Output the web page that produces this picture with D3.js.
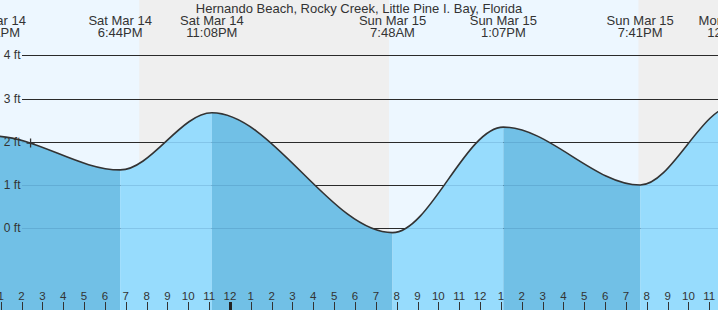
<!DOCTYPE html>
<html>
<head>
<meta charset="utf-8">
<script src="https://cdn.jsdelivr.net/npm/d3@7"></script>
<style>
  html, body { margin: 0; padding: 0; background: #fff; }
  svg { display: block; font-family: "Liberation Sans", Arial, sans-serif; }
</style>
</head>
<body>
<svg id="chart" width="718" height="310"></svg>
<script>
// ---- data ----
const title = "Hernando Beach, Rocky Creek, Little Pine I. Bay, Florida";
const tideTimes = ["2026-03-14T12:41", "2026-03-14T18:44", "2026-03-14T23:08", "2026-03-15T07:48", "2026-03-15T13:07", "2026-03-15T19:41", "2026-03-16T00:09"];
const tideHeights = [2.13, 1.35, 2.67, -0.10, 2.34, 1.00, 2.83];
const tideDateLabels = ["Sat Mar 14", "Sat Mar 14", "Sat Mar 14", "Sun Mar 15", "Sun Mar 15", "Sun Mar 15", "Mon Mar 16"];
const tideTimeLabels = ["12:41PM", "6:44PM", "11:08PM", "7:48AM", "1:07PM", "7:41PM", "12:09AM"];
const nightStarts = ["2026-03-14T19:39", "2026-03-15T19:36"];
const nightEnds = ["2026-03-15T07:38", "2026-03-16T07:38"];
const yTicks = [0, 1, 2, 3, 4];
const yTickLabels = ["0 ft", "1 ft", "2 ft", "3 ft", "4 ft"];
const domainStart = "2026-03-14T12:58";
const domainEnd = "2026-03-15T23:25";
const nowTime = "2026-03-14T14:26";
const nowHeight = 1.97;

// ---- curve: cubic Hermite with flat tangents at every high / low ----
function TideCurve(context) { this._context = context; }
TideCurve.prototype = {
  areaStart() { this._line = 0; },
  areaEnd() { this._line = NaN; },
  lineStart() { this._point = 0; },
  lineEnd() {
    if (this._line || (this._line !== 0 && this._point === 1)) this._context.closePath();
    this._line = 1 - this._line;
  },
  point(px, py) {
    px = +px; py = +py;
    if (this._point === 0) {
      this._point = 1;
      this._line ? this._context.lineTo(px, py) : this._context.moveTo(px, py);
    } else {
      this._point = 2;
      const dx = (px - this._x0) / 3;
      this._context.bezierCurveTo(this._x0 + dx, this._y0, px - dx, py, px, py);
    }
    this._x0 = px; this._y0 = py;
  }
};
const curveTide = (context) => new TideCurve(context);

// ---- setup ----
const W = 718, H = 310;
const svg = d3.select("#chart");
const x = d3.scaleTime().domain([new Date(domainStart), new Date(domainEnd)]).range([0, W]);
const y = d3.scaleLinear().domain([0, 4]).range([228.3, 55.3]);

const tides = tideTimes.map((t, i) => ({ t: new Date(t), h: tideHeights[i], d: tideDateLabels[i], tl: tideTimeLabels[i] }));

const textColor = "#333";

// backgrounds
svg.append("rect").attr("x", 0).attr("y", 0).attr("width", W).attr("height", H).attr("fill", "#edf7ff");
svg.selectAll("rect.night").data(nightStarts).enter().append("rect")
  .attr("class", "night")
  .attr("x", (d) => x(new Date(d)))
  .attr("y", 0)
  .attr("width", (d, i) => Math.min(W, x(new Date(nightEnds[i]))) - x(new Date(d)))
  .attr("height", H)
  .attr("fill", "#efefef");

// grid lines above
const grid = svg.append("g");
grid.selectAll("line").data(yTicks).enter().append("line")
  .attr("x1", 22).attr("x2", W)
  .attr("y1", (d) => Math.round(y(d)) + 0.5).attr("y2", (d) => Math.round(y(d)) + 0.5)
  .attr("stroke", "#2a2a2a").attr("stroke-width", 1);

// area
const area = d3.area().x((d) => x(d.t)).y0(H).y1((d) => y(d.h)).curve(curveTide);
const line = d3.line().x((d) => x(d.t)).y((d) => y(d.h)).curve(curveTide);

const defs = svg.append("defs");
defs.append("clipPath").attr("id", "areaClip").append("path").attr("d", area(tides));

const fillG = svg.append("g").attr("clip-path", "url(#areaClip)");
const segs = d3.pairs(tides);
fillG.selectAll("rect").data(segs).enter().append("rect")
  .attr("x", (d) => x(d[0].t))
  .attr("width", (d) => x(d[1].t) - x(d[0].t))
  .attr("y", 0).attr("height", H)
  .attr("fill", (d) => d[1].h < d[0].h ? "#71c0e6" : "#97dcfd");
fillG.selectAll("line").data(yTicks).enter().append("line")
  .attr("x1", 22).attr("x2", W)
  .attr("y1", (d) => Math.round(y(d)) + 0.5).attr("y2", (d) => Math.round(y(d)) + 0.5)
  .attr("stroke", "rgba(0,50,100,0.13)").attr("stroke-width", 1);

// tide curve
svg.append("path").attr("d", line(tides)).attr("fill", "none")
  .attr("stroke", "#333").attr("stroke-width", 1.6);

// now marker
const nx = x(new Date(nowTime)), ny = y(nowHeight);
svg.append("path").attr("d", `M${nx - 4},${ny}H${nx + 4}M${nx},${ny - 4.5}V${ny + 4.5}`)
  .attr("stroke", "#333").attr("stroke-width", 1.3).attr("fill", "none");

// y labels
svg.append("g").selectAll("text").data(yTicks).enter().append("text")
  .attr("x", 20.5).attr("y", (d) => y(d) + 4)
  .attr("text-anchor", "end").attr("font-size", 12).attr("fill", textColor)
  .text((d, i) => yTickLabels[i]);

// title
svg.append("text").attr("x", 359).attr("y", 12.5).attr("text-anchor", "middle")
  .attr("font-size", 13).attr("fill", textColor).text(title);

// tide labels
const lab = svg.append("g").selectAll("g").data(tides).enter().append("g");
lab.append("text").attr("x", (d) => x(d.t)).attr("y", 24.5).attr("text-anchor", "middle")
  .attr("font-size", 13).attr("fill", textColor).text((d) => d.d);
lab.append("text").attr("x", (d) => x(d.t)).attr("y", 36.5).attr("text-anchor", "middle")
  .attr("font-size", 13).attr("fill", textColor).text((d) => d.tl);

// x axis
const hours = d3.timeHour.range(d3.timeHour.ceil(x.domain()[0]), x.domain()[1]);
const fmt = d3.timeFormat("%-I");
const axis = svg.append("g");
axis.selectAll("text").data(hours).enter().append("text")
  .attr("x", (d) => x(d)).attr("y", 299.5).attr("text-anchor", "middle")
  .attr("font-size", 11.5).attr("fill", textColor).text((d) => fmt(d));
axis.selectAll("line").data(hours).enter().append("line")
  .attr("x1", (d) => Math.round(x(d)) + 0.5).attr("x2", (d) => Math.round(x(d)) + 0.5)
  .attr("y1", 302).attr("y2", H)
  .attr("stroke", (d) => d.getHours() === 0 ? "#222" : "#333")
  .attr("stroke-width", (d) => d.getHours() === 0 ? 3 : 1);
</script>
</body>
</html>
